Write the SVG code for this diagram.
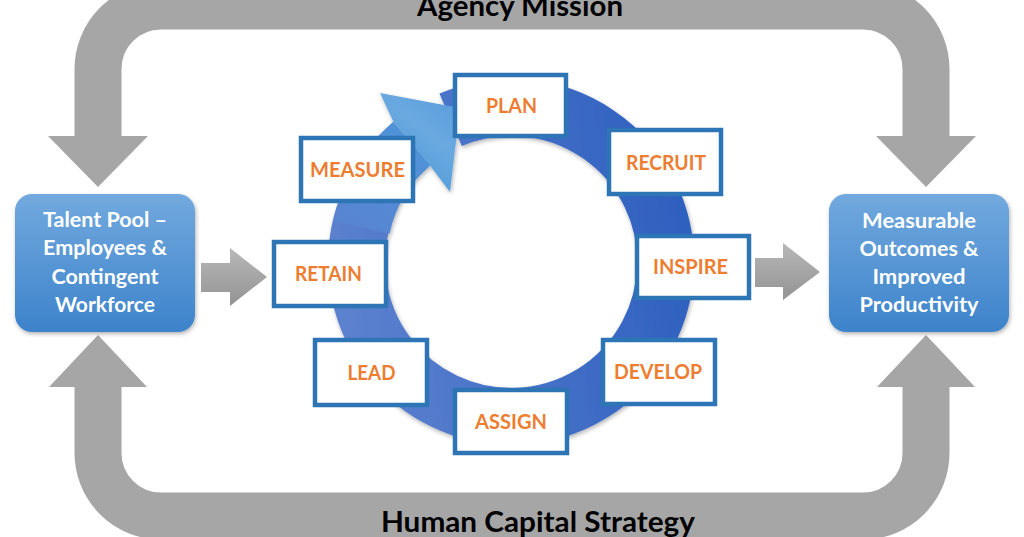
<svg xmlns="http://www.w3.org/2000/svg" width="1024" height="537" viewBox="0 0 1024 537">
  <defs>
    <style>
      .band { fill: none; stroke: #a6a6a6; stroke-width: 47; }
      .bandhead { fill: #a6a6a6; }
      .smallarrow { fill: url(#grayGrad); }
      .node { fill: url(#nodeGrad); filter: url(#shadow); }
      .nodetext { font-family: Lato, "Open Sans", sans-serif; font-weight: bold; font-size: 20.5px; fill: #ffffff; text-anchor: middle; }
      .box { fill: #ffffff; stroke: #2e75b6; stroke-width: 4.5; }
      .boxtext { font-family: Lato, "Open Sans", sans-serif; font-weight: bold; font-size: 20px; fill: #ed7d31; text-anchor: middle; }
      .title { font-family: Lato, "Open Sans", sans-serif; font-weight: bold; font-size: 28.5px; fill: #000000; text-anchor: middle; }
    </style>
    <linearGradient id="nodeGrad" x1="0" y1="0" x2="0" y2="1">
      <stop offset="0" stop-color="#72a9de"/>
      <stop offset="1" stop-color="#3d83cb"/>
    </linearGradient>
    <linearGradient id="grayGrad" x1="0" y1="0" x2="0" y2="1">
      <stop offset="0" stop-color="#b8b8b8"/>
      <stop offset="1" stop-color="#939393"/>
    </linearGradient>
    <linearGradient id="ringGrad" gradientUnits="userSpaceOnUse" x1="330" y1="300" x2="700" y2="230">
      <stop offset="0" stop-color="#5d82cf"/>
      <stop offset="1" stop-color="#2d5fbf"/>
    </linearGradient>
    <linearGradient id="segGrad" gradientUnits="userSpaceOnUse" x1="335" y1="235" x2="415" y2="135">
      <stop offset="0" stop-color="#5a82cf"/>
      <stop offset="1" stop-color="#4f93d8"/>
    </linearGradient>
    <linearGradient id="headGrad" gradientUnits="userSpaceOnUse" x1="395" y1="175" x2="450" y2="105">
      <stop offset="0" stop-color="#529ad9"/>
      <stop offset="0.6" stop-color="#69a9e0"/>
      <stop offset="1" stop-color="#5f9fdc"/>
    </linearGradient>
    <filter id="shadow" x="-20%" y="-20%" width="140%" height="140%">
      <feDropShadow dx="1" dy="2" stdDeviation="2" flood-color="#000000" flood-opacity="0.3"/>
    </filter>
  </defs>

  <g id="connectors">
    <g id="agency-mission-arrow">
      <path class="band" d="M98,136 V69 A63,63 0 0 1 161,6 H863 A63,63 0 0 1 926,69 V136"/>
      <polygon class="bandhead" points="48,136 148,136 98,187"/>
      <polygon class="bandhead" points="876,136 976,136 926,187"/>
      <text class="title" x="520" y="16" textLength="206" lengthAdjust="spacingAndGlyphs">Agency Mission</text>
    </g>
    <g id="human-capital-arrow">
      <path class="band" d="M98,387 V453 A63,63 0 0 0 161,516 H863 A63,63 0 0 0 926,453 V387"/>
      <polygon class="bandhead" points="49,387 147,387 98,335"/>
      <polygon class="bandhead" points="877,387 975,387 926,335"/>
      <text class="title" x="538" y="532" textLength="314" lengthAdjust="spacingAndGlyphs">Human Capital Strategy</text>
    </g>
    <polygon class="smallarrow" points="201,263 230,263 230,248 267,277 230,306 230,292 201,292"/>
    <polygon class="smallarrow" points="755,258 783,258 783,243 820,272 783,300 783,287 755,287"/>
  </g>

  <g id="cycle" filter="url(#shadow)">
    <path d="M450.6,119.8 A154.5,154.5 0 1 1 411.7,143.7" fill="none" stroke="url(#ringGrad)" stroke-width="57"/>
    <path d="M361.8,227.2 A154.5,154.5 0 0 1 411.7,143.7" fill="none" stroke="url(#segGrad)" stroke-width="57"/>
    <polygon points="393.4,121.8 380,93 460,108 450,192 430,165.5" fill="url(#headGrad)"/>
  </g>

  <g id="node-talent-pool">
    <rect class="node" x="15" y="194" width="180" height="138" rx="17"/>
    <text class="nodetext" x="105" y="227" textLength="124" lengthAdjust="spacingAndGlyphs">Talent Pool –</text>
    <text class="nodetext" x="105" y="255" textLength="124" lengthAdjust="spacingAndGlyphs">Employees &amp;</text>
    <text class="nodetext" x="105" y="284" textLength="107" lengthAdjust="spacingAndGlyphs">Contingent</text>
    <text class="nodetext" x="105" y="312" textLength="100" lengthAdjust="spacingAndGlyphs">Workforce</text>
  </g>

  <g id="node-outcomes">
    <rect class="node" x="829" y="194" width="180" height="138" rx="17"/>
    <text class="nodetext" x="919" y="228" textLength="114" lengthAdjust="spacingAndGlyphs">Measurable</text>
    <text class="nodetext" x="919" y="256" textLength="119" lengthAdjust="spacingAndGlyphs">Outcomes &amp;</text>
    <text class="nodetext" x="919" y="284" textLength="93" lengthAdjust="spacingAndGlyphs">Improved</text>
    <text class="nodetext" x="919" y="312" textLength="119" lengthAdjust="spacingAndGlyphs">Productivity</text>
  </g>

  <g id="node-plan">
    <rect class="box" x="455" y="75" width="111" height="61"/>
    <text class="boxtext" x="511.5" y="113" textLength="51" lengthAdjust="spacingAndGlyphs">PLAN</text>
  </g>
  <g id="node-measure">
    <rect class="box" x="301" y="138" width="112" height="63"/>
    <text class="boxtext" x="357.5" y="177" textLength="95" lengthAdjust="spacingAndGlyphs">MEASURE</text>
  </g>
  <g id="node-recruit">
    <rect class="box" x="609" y="130" width="112" height="64"/>
    <text class="boxtext" x="666" y="170" textLength="80" lengthAdjust="spacingAndGlyphs">RECRUIT</text>
  </g>
  <g id="node-inspire">
    <rect class="box" x="637" y="236" width="112" height="62"/>
    <text class="boxtext" x="690.5" y="274" textLength="75" lengthAdjust="spacingAndGlyphs">INSPIRE</text>
  </g>
  <g id="node-retain">
    <rect class="box" x="274" y="242" width="112" height="64"/>
    <text class="boxtext" x="328.5" y="281" textLength="67" lengthAdjust="spacingAndGlyphs">RETAIN</text>
  </g>
  <g id="node-lead">
    <rect class="box" x="315" y="340" width="112" height="65"/>
    <text class="boxtext" x="371.5" y="380" textLength="48" lengthAdjust="spacingAndGlyphs">LEAD</text>
  </g>
  <g id="node-assign">
    <rect class="box" x="455" y="390" width="112" height="63"/>
    <text class="boxtext" x="511" y="429" textLength="72" lengthAdjust="spacingAndGlyphs">ASSIGN</text>
  </g>
  <g id="node-develop">
    <rect class="box" x="603" y="340" width="112" height="64"/>
    <text class="boxtext" x="658" y="379" textLength="88" lengthAdjust="spacingAndGlyphs">DEVELOP</text>
  </g>
</svg>
